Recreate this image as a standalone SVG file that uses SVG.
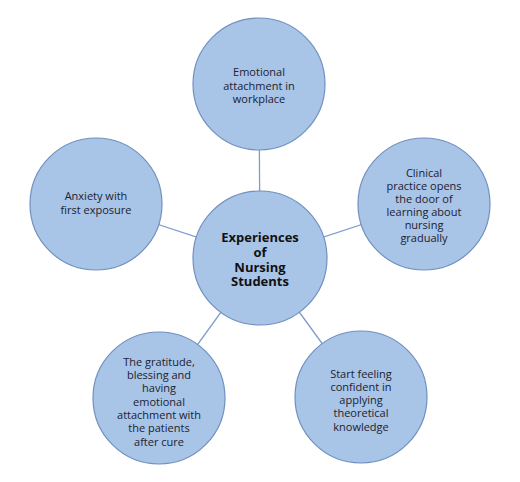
<svg xmlns="http://www.w3.org/2000/svg" width="520" height="482" viewBox="0 0 520 482">
<style>
.n{fill:#a8c4e7;stroke:#7090c0;stroke-width:1.2}
.c{stroke:#7f9ccb;stroke-width:1.3}
text{font-family:"Open Sans","Noto Sans",sans-serif;font-size:11px;fill:#1c2230;text-anchor:middle}
.b{font-weight:bold;font-size:13px;fill:#111}
</style>
<rect width="520" height="482" fill="#fff"/>
<g id="connectors">
<line class="c" x1="260" y1="258" x2="259" y2="84"/>
<line class="c" x1="260" y1="258" x2="96" y2="204"/>
<line class="c" x1="260" y1="258" x2="424" y2="204"/>
<line class="c" x1="260" y1="258" x2="159" y2="398"/>
<line class="c" x1="260" y1="258" x2="361" y2="397"/>
</g>
<g id="center">
<circle class="n" cx="260" cy="258" r="67"/>
<text class="b"><tspan x="260" y="242">Experiences</tspan><tspan x="260" y="257">of</tspan><tspan x="260" y="272">Nursing</tspan><tspan x="260" y="286">Students</tspan></text>
</g>
<g id="top">
<circle class="n" cx="259" cy="84" r="66"/>
<text><tspan x="259" y="76">Emotional</tspan><tspan x="259" y="89.5">attachment in</tspan><tspan x="259" y="103">workplace</tspan></text>
</g>
<g id="left">
<circle class="n" cx="96" cy="204" r="66"/>
<text><tspan x="96" y="200">Anxiety with</tspan><tspan x="96" y="213.5">first exposure</tspan></text>
</g>
<g id="right">
<circle class="n" cx="424" cy="204" r="66"/>
<text><tspan x="424" y="177">Clinical</tspan><tspan x="424" y="190">practice opens</tspan><tspan x="424" y="203">the door of</tspan><tspan x="424" y="216">learning about</tspan><tspan x="424" y="229">nursing</tspan><tspan x="424" y="242">gradually</tspan></text>
</g>
<g id="bottom-left">
<circle class="n" cx="159" cy="398" r="66"/>
<text><tspan x="159" y="366">The gratitude,</tspan><tspan x="159" y="379">blessing and</tspan><tspan x="159" y="392">having</tspan><tspan x="159" y="406">emotional</tspan><tspan x="159" y="419">attachment with</tspan><tspan x="159" y="432">the patients</tspan><tspan x="159" y="446">after cure</tspan></text>
</g>
<g id="bottom-right">
<circle class="n" cx="361" cy="397" r="66"/>
<text><tspan x="361" y="378">Start feeling</tspan><tspan x="361" y="391">confident in</tspan><tspan x="361" y="404">applying</tspan><tspan x="361" y="417">theoretical</tspan><tspan x="361" y="431">knowledge</tspan></text>
</g>
</svg>
